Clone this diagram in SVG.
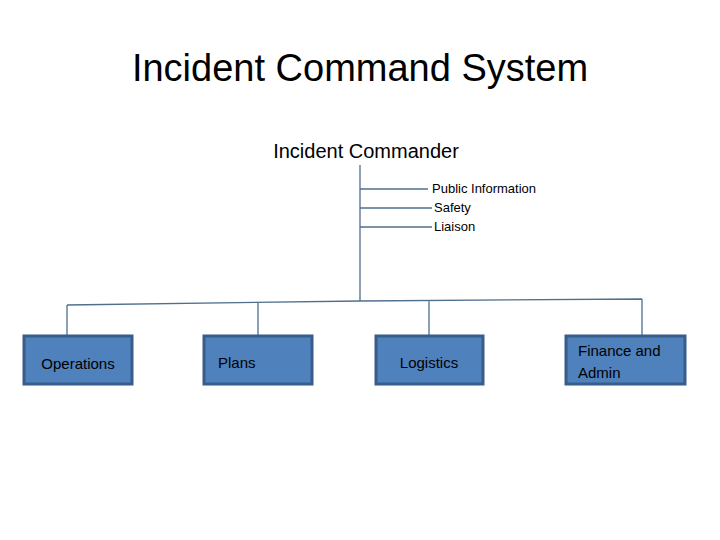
<svg xmlns="http://www.w3.org/2000/svg" width="720" height="540" viewBox="0 0 720 540">
<style>
.t{font-family:"Liberation Sans",Arial,sans-serif;fill:#000}
.box{fill:#4f81bd;stroke:#385d8a;stroke-width:3}
.c{stroke:#4f6f8f;stroke-width:1.3;fill:none}
</style>
<rect width="720" height="540" fill="#fff"/>
<text class="t" x="360" y="81" font-size="38" text-anchor="middle">Incident Command System</text>
<text class="t" x="366" y="158" font-size="20" text-anchor="middle">Incident Commander</text>
<g id="connectors">
<path class="c" d="M360 165V301M360 189H428M360 208H432M360 227H432"/>
<path class="c" d="M67 305L360 301L642 299M67 305V336M258 303V336M429 300V336M642 299V336"/>
</g>
<text class="t" x="432" y="193" font-size="13">Public Information</text>
<text class="t" x="434" y="212" font-size="13">Safety</text>
<text class="t" x="434" y="231" font-size="13">Liaison</text>
<g id="operations"><rect class="box" x="24" y="336" width="108" height="48"/><text class="t" x="78" y="369" font-size="15" text-anchor="middle">Operations</text></g>
<g id="plans"><rect class="box" x="204" y="336" width="108" height="48"/><text class="t" x="218" y="368" font-size="15">Plans</text></g>
<g id="logistics"><rect class="box" x="376" y="336" width="107" height="48"/><text class="t" x="429" y="368" font-size="15" text-anchor="middle">Logistics</text></g>
<g id="finance"><rect class="box" x="566" y="336" width="119" height="48"/><text class="t" x="578" y="356" font-size="15">Finance and</text><text class="t" x="578" y="378" font-size="15">Admin</text></g>
</svg>
